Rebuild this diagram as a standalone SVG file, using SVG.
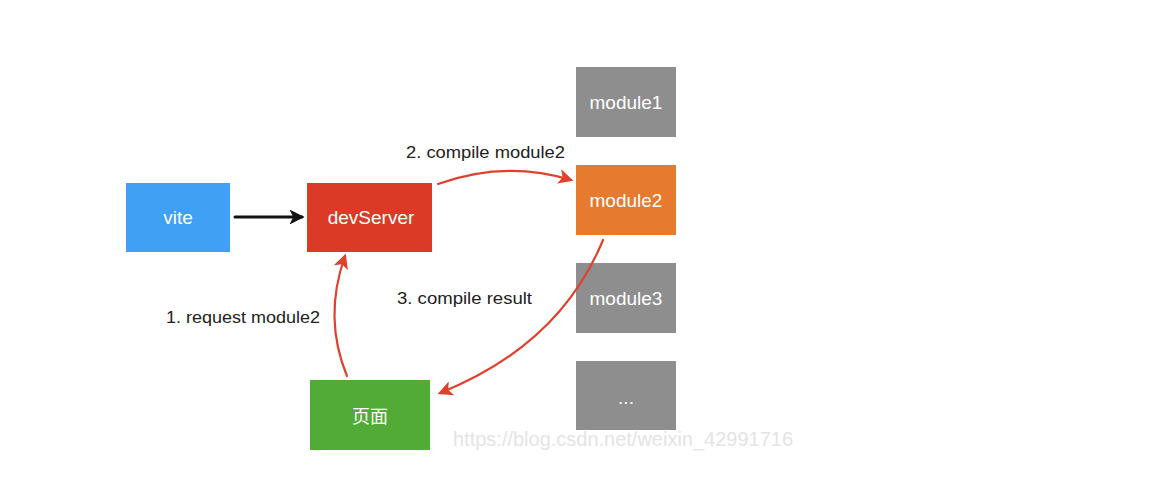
<svg xmlns="http://www.w3.org/2000/svg" width="1153" height="488" viewBox="0 0 1153 488">
  <style>
    .node-label { font-family: "Liberation Sans", Arial, sans-serif; font-size: 19px; fill: #ffffff; text-anchor: middle; dominant-baseline: central; }
    .cjk { font-family: "Noto Sans CJK SC", "Liberation Sans", sans-serif; font-size: 18px; }
    .edge-label { font-family: "Liberation Sans", Arial, sans-serif; font-size: 16px; fill: #222222; }
    .red { fill: none; stroke: #E0412F; stroke-width: 2.2; stroke-linecap: round; }
    .black { fill: none; stroke: #111111; stroke-width: 3; stroke-linecap: round; }
    .wm { font-family: "Liberation Sans", Arial, sans-serif; font-size: 20px; fill: #e4e4e4; }
  </style>
  <defs>
    <marker id="arrRed" viewBox="0 0 12 12" refX="10" refY="6" markerWidth="15" markerHeight="15" markerUnits="userSpaceOnUse" orient="auto">
      <path d="M0,0 L12,6 L0,12 L3,6 Z" fill="#E0412F"/>
    </marker>
    <marker id="arrBlack" viewBox="0 0 12 12" refX="10" refY="6" markerWidth="15" markerHeight="15" markerUnits="userSpaceOnUse" orient="auto">
      <path d="M0,0 L12,6 L0,12 L3,6 Z" fill="#111111"/>
    </marker>
  </defs>
  <rect width="1153" height="488" fill="#ffffff"/>

  <g id="vite">
    <rect x="126" y="183" width="104" height="69" fill="#3FA0F4"/>
    <text class="node-label" x="178" y="217.5">vite</text>
  </g>
  <g id="devServer">
    <rect x="307" y="183" width="125" height="69" fill="#DB3B26"/>
    <text class="node-label" x="371" y="217.5">devServer</text>
  </g>
  <g id="module1">
    <rect x="576" y="67" width="100" height="70" fill="#8E8E8E"/>
    <text class="node-label" x="626" y="102">module1</text>
  </g>
  <g id="module2">
    <rect x="576" y="165" width="100" height="70" fill="#E67A2E"/>
    <text class="node-label" x="626" y="200">module2</text>
  </g>
  <g id="module3">
    <rect x="576" y="263" width="100" height="70" fill="#8E8E8E"/>
    <text class="node-label" x="626" y="298">module3</text>
  </g>
  <g id="more">
    <rect x="576" y="361" width="100" height="69" fill="#8E8E8E"/>
    <text class="node-label" x="626" y="397">...</text>
  </g>
  <g id="page">
    <rect x="310" y="380" width="120" height="70" fill="#52AB37"/>
    <text class="node-label cjk" x="370" y="415">页面</text>
  </g>

  <g id="connectors">
    <path class="black" d="M235,217 L302,217" marker-end="url(#arrBlack)"/>
    <path class="red" d="M438,184 Q505,160 571,180" marker-end="url(#arrRed)"/>
    <path class="red" d="M603,240 Q560,345 440,393" marker-end="url(#arrRed)"/>
    <path class="red" d="M347,376 Q323,318 345,256" marker-end="url(#arrRed)"/>
  </g>

  <g id="labels">
    <text class="edge-label" x="406" y="158" textLength="159" lengthAdjust="spacingAndGlyphs">2. compile module2</text>
    <text class="edge-label" x="166" y="323" textLength="154" lengthAdjust="spacingAndGlyphs">1. request module2</text>
    <text class="edge-label" x="397" y="304" textLength="135" lengthAdjust="spacingAndGlyphs">3. compile result</text>
  </g>

  <text class="wm" x="453" y="446" textLength="340" lengthAdjust="spacingAndGlyphs">https://blog.csdn.net/weixin_42991716</text>
</svg>
